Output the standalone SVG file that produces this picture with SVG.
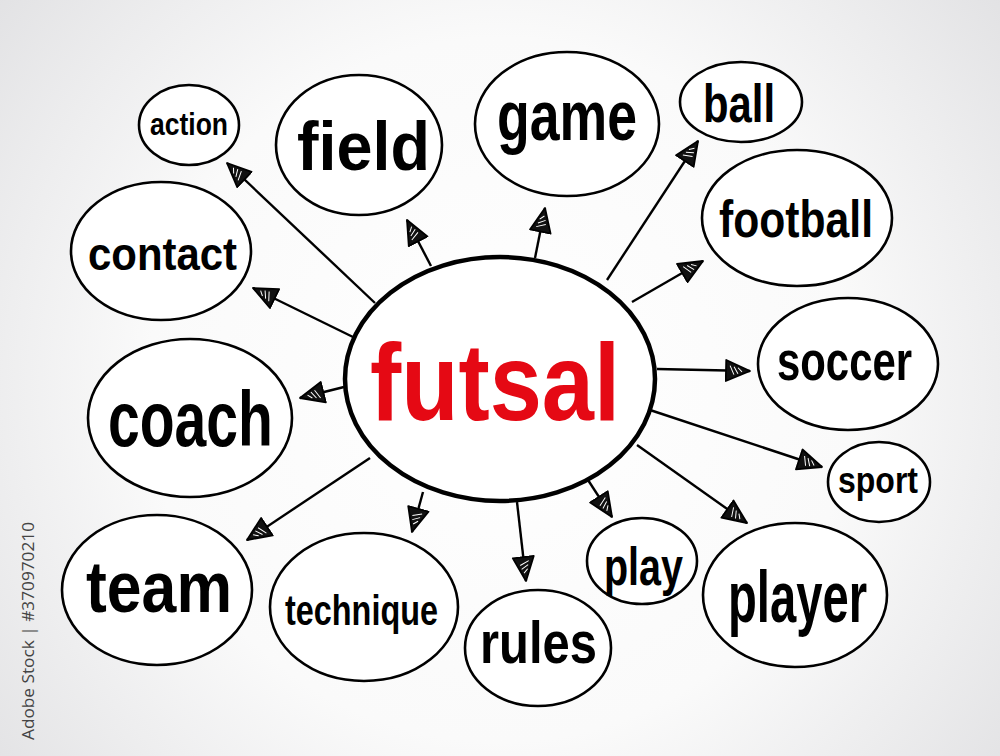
<svg xmlns="http://www.w3.org/2000/svg" width="1000" height="756" viewBox="0 0 1000 756">
<defs>
<radialGradient id="bg" cx="500" cy="390" r="640" gradientUnits="userSpaceOnUse">
<stop offset="0" stop-color="#ffffff"/>
<stop offset="0.55" stop-color="#fafafa"/>
<stop offset="1" stop-color="#e2e2e4"/>
</radialGradient>
<marker id="arr" viewBox="0 0 26 24" refX="25" refY="12" markerWidth="26" markerHeight="24" markerUnits="userSpaceOnUse" orient="auto">
<path d="M1,1.5 L25,12 L1,22.5 Z" fill="#111" stroke="#000" stroke-width="1.8" stroke-linejoin="round"/>
<path d="M5,7 L9,16 M9,8 L13,15 M13,9 L17,13" stroke="#fff" stroke-width="1" fill="none"/>
</marker>
<style>
.n{fill:#fff;stroke:#000;stroke-width:2.6}
.c{fill:#fff;stroke:#000;stroke-width:4.5}
.t{font-family:"Liberation Sans","Noto Sans",Arial,sans-serif;font-weight:bold;fill:#000}
.l{stroke:#000;stroke-width:2.4;fill:none;marker-end:url(#arr)}
</style>
</defs>
<rect width="1000" height="756" fill="url(#bg)"/>
<text transform="translate(34,631) rotate(-90)" text-anchor="middle" font-family="'Open Sans','Noto Sans',sans-serif" font-size="17" fill="#444" textLength="218" lengthAdjust="spacingAndGlyphs">Adobe Stock | #370970210</text>
<g id="connectors">
<line class="l" x1="375" y1="303" x2="227" y2="163"/>
<line class="l" x1="353" y1="337" x2="253" y2="288"/>
<line class="l" x1="431" y1="266" x2="407" y2="220"/>
<line class="l" x1="535" y1="258" x2="545" y2="208"/>
<line class="l" x1="607" y1="280" x2="698" y2="141"/>
<line class="l" x1="632" y1="302" x2="703" y2="261"/>
<line class="l" x1="657" y1="369" x2="750" y2="371"/>
<line class="l" x1="650" y1="410" x2="822" y2="467"/>
<line class="l" x1="637" y1="445" x2="747" y2="523"/>
<line class="l" x1="588" y1="480" x2="612" y2="517"/>
<line class="l" x1="517" y1="502" x2="526" y2="581"/>
<line class="l" x1="423" y1="492" x2="412" y2="532"/>
<line class="l" x1="370" y1="458" x2="247" y2="540"/>
<line class="l" x1="344" y1="387" x2="300" y2="398"/>
</g>
<g id="node-futsal">
<ellipse class="c" cx="500" cy="379" rx="155" ry="122"/>
<text x="370" y="420" font-size="110" class="t" style="fill:#e50914" textLength="250" lengthAdjust="spacingAndGlyphs">futsal</text>
</g>
<g id="node-action">
<ellipse class="n" cx="189" cy="125" rx="50" ry="40"/>
<text x="150" y="135" font-size="32" class="t" textLength="78" lengthAdjust="spacingAndGlyphs">action</text>
</g>
<g id="node-field">
<ellipse class="n" cx="359" cy="145" rx="83" ry="70"/>
<text x="297" y="170" font-size="68" class="t" textLength="133" lengthAdjust="spacingAndGlyphs">field</text>
</g>
<g id="node-game">
<ellipse class="n" cx="567" cy="124" rx="92" ry="72"/>
<text x="497" y="140" font-size="70" class="t" textLength="140" lengthAdjust="spacingAndGlyphs">game</text>
</g>
<g id="node-ball">
<ellipse class="n" cx="741" cy="102" rx="61" ry="40"/>
<text x="703" y="122" font-size="54" class="t" textLength="72" lengthAdjust="spacingAndGlyphs">ball</text>
</g>
<g id="node-football">
<ellipse class="n" cx="797" cy="218" rx="95" ry="68"/>
<text x="719" y="237" font-size="52" class="t" textLength="154" lengthAdjust="spacingAndGlyphs">football</text>
</g>
<g id="node-contact">
<ellipse class="n" cx="161" cy="251" rx="90" ry="69"/>
<text x="88" y="270" font-size="46" class="t" textLength="149" lengthAdjust="spacingAndGlyphs">contact</text>
</g>
<g id="node-soccer">
<ellipse class="n" cx="848" cy="364" rx="90" ry="66"/>
<text x="777" y="380" font-size="56" class="t" textLength="135" lengthAdjust="spacingAndGlyphs">soccer</text>
</g>
<g id="node-coach">
<ellipse class="n" cx="190" cy="418" rx="102" ry="79"/>
<text x="108" y="446" font-size="78" class="t" textLength="165" lengthAdjust="spacingAndGlyphs">coach</text>
</g>
<g id="node-sport">
<ellipse class="n" cx="879" cy="482" rx="51" ry="40"/>
<text x="838" y="493" font-size="37" class="t" textLength="80" lengthAdjust="spacingAndGlyphs">sport</text>
</g>
<g id="node-team">
<ellipse class="n" cx="157" cy="590" rx="95" ry="75"/>
<text x="86" y="612" font-size="72" class="t" textLength="146" lengthAdjust="spacingAndGlyphs">team</text>
</g>
<g id="node-technique">
<ellipse class="n" cx="364" cy="607" rx="94" ry="74"/>
<text x="285" y="625" font-size="42" class="t" textLength="153" lengthAdjust="spacingAndGlyphs">technique</text>
</g>
<g id="node-rules">
<ellipse class="n" cx="538" cy="648" rx="73" ry="58"/>
<text x="480" y="663" font-size="60" class="t" textLength="117" lengthAdjust="spacingAndGlyphs">rules</text>
</g>
<g id="node-play">
<ellipse class="n" cx="642" cy="561" rx="55" ry="43"/>
<text x="604" y="585" font-size="54" class="t" textLength="79" lengthAdjust="spacingAndGlyphs">play</text>
</g>
<g id="node-player">
<ellipse class="n" cx="795" cy="595" rx="92" ry="72"/>
<text x="728" y="622" font-size="72" class="t" textLength="139" lengthAdjust="spacingAndGlyphs">player</text>
</g>
</svg>
